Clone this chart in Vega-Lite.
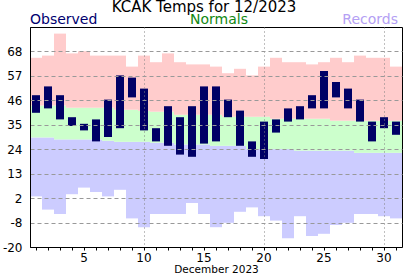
{
  "$schema": "https://vega.github.io/schema/vega-lite/v6.json",
  "width": 372,
  "height": 220,
  "autosize": "none",
  "padding": {"left": 30, "top": 27, "right": 10, "bottom": 29},
  "background": "white",
  "config": {"view": {"stroke": "black", "strokeWidth": 1}, "font": "DejaVu Sans"},
  "data": {"values": [
    {"day": 1, "obs_hi": 49, "obs_lo": 41, "norm_hi": 44.3, "norm_lo": 29.8, "rec_hi": 66, "rec_lo": 3},
    {"day": 2, "obs_hi": 53, "obs_lo": 43, "norm_hi": 44.3, "norm_lo": 29.8, "rec_hi": 67, "rec_lo": -3},
    {"day": 3, "obs_hi": 49, "obs_lo": 38, "norm_hi": 44.3, "norm_lo": 28.9, "rec_hi": 77, "rec_lo": -5},
    {"day": 4, "obs_hi": 39, "obs_lo": 35, "norm_hi": 43.3, "norm_lo": 28.9, "rec_hi": 68, "rec_lo": 4},
    {"day": 5, "obs_hi": 36, "obs_lo": 33, "norm_hi": 43.3, "norm_lo": 28.9, "rec_hi": 69, "rec_lo": 7},
    {"day": 6, "obs_hi": 38, "obs_lo": 28, "norm_hi": 43.3, "norm_lo": 28.9, "rec_hi": 67, "rec_lo": 5},
    {"day": 7, "obs_hi": 47, "obs_lo": 30, "norm_hi": 43.3, "norm_lo": 28.3, "rec_hi": 67, "rec_lo": 3},
    {"day": 8, "obs_hi": 58, "obs_lo": 34, "norm_hi": 42.4, "norm_lo": 27.8, "rec_hi": 67, "rec_lo": 6},
    {"day": 9, "obs_hi": 57, "obs_lo": 48, "norm_hi": 42.4, "norm_lo": 27.8, "rec_hi": 62, "rec_lo": -7},
    {"day": 10, "obs_hi": 52, "obs_lo": 33, "norm_hi": 41.9, "norm_lo": 27.8, "rec_hi": 67, "rec_lo": -11},
    {"day": 11, "obs_hi": 34, "obs_lo": 28, "norm_hi": 41.5, "norm_lo": 27.4, "rec_hi": 64, "rec_lo": -5},
    {"day": 12, "obs_hi": 44, "obs_lo": 26, "norm_hi": 41.5, "norm_lo": 27.4, "rec_hi": 68, "rec_lo": -5},
    {"day": 13, "obs_hi": 39, "obs_lo": 22, "norm_hi": 40.1, "norm_lo": 26.6, "rec_hi": 64, "rec_lo": -5},
    {"day": 14, "obs_hi": 44, "obs_lo": 21, "norm_hi": 40.1, "norm_lo": 26.6, "rec_hi": 63, "rec_lo": 0},
    {"day": 15, "obs_hi": 53, "obs_lo": 27, "norm_hi": 40.1, "norm_lo": 26.6, "rec_hi": 63, "rec_lo": -5},
    {"day": 16, "obs_hi": 53, "obs_lo": 28, "norm_hi": 40.1, "norm_lo": 26.0, "rec_hi": 62, "rec_lo": -11},
    {"day": 17, "obs_hi": 47, "obs_lo": 39, "norm_hi": 39.2, "norm_lo": 26.0, "rec_hi": 59, "rec_lo": -9},
    {"day": 18, "obs_hi": 42, "obs_lo": 26, "norm_hi": 39.2, "norm_lo": 26.0, "rec_hi": 61, "rec_lo": -4},
    {"day": 19, "obs_hi": 28, "obs_lo": 21, "norm_hi": 39.2, "norm_lo": 24.5, "rec_hi": 58, "rec_lo": -2},
    {"day": 20, "obs_hi": 37, "obs_lo": 20, "norm_hi": 39.2, "norm_lo": 24.5, "rec_hi": 62, "rec_lo": -6},
    {"day": 21, "obs_hi": 38, "obs_lo": 32, "norm_hi": 38.3, "norm_lo": 24.5, "rec_hi": 66, "rec_lo": -8},
    {"day": 22, "obs_hi": 43, "obs_lo": 37, "norm_hi": 38.3, "norm_lo": 24.5, "rec_hi": 64, "rec_lo": -16},
    {"day": 23, "obs_hi": 44, "obs_lo": 38, "norm_hi": 38.3, "norm_lo": 23.8, "rec_hi": 64, "rec_lo": -6},
    {"day": 24, "obs_hi": 49, "obs_lo": 43, "norm_hi": 38.3, "norm_lo": 23.8, "rec_hi": 63, "rec_lo": -15},
    {"day": 25, "obs_hi": 60, "obs_lo": 43, "norm_hi": 38.3, "norm_lo": 23.8, "rec_hi": 64, "rec_lo": -14},
    {"day": 26, "obs_hi": 55, "obs_lo": 48, "norm_hi": 37.4, "norm_lo": 23.8, "rec_hi": 66, "rec_lo": -10},
    {"day": 27, "obs_hi": 52, "obs_lo": 43, "norm_hi": 37.4, "norm_lo": 23.8, "rec_hi": 64, "rec_lo": -9},
    {"day": 28, "obs_hi": 47, "obs_lo": 37, "norm_hi": 37.4, "norm_lo": 22.8, "rec_hi": 67, "rec_lo": -5},
    {"day": 29, "obs_hi": 37, "obs_lo": 28, "norm_hi": 37.4, "norm_lo": 22.8, "rec_hi": 66, "rec_lo": -5},
    {"day": 30, "obs_hi": 39, "obs_lo": 34, "norm_hi": 37.4, "norm_lo": 22.8, "rec_hi": 66, "rec_lo": -6},
    {"day": 31, "obs_hi": 37, "obs_lo": 31, "norm_hi": 37.4, "norm_lo": 22.8, "rec_hi": 62, "rec_lo": -7}
  ]},
  "encoding": {
    "x": {
      "field": "day", "type": "ordinal",
      "scale": {"paddingInner": 0, "paddingOuter": 0},
      "axis": {
        "labelExpr": "datum.value % 5 == 0 ? datum.label : ''",
        "labelAngle": 0, "labelFontSize": 12, "labelColor": "black", "labelPadding": 2,
        "bandPosition": 0.5,
        "grid": true, "gridColor": "#808080", "gridDash": [1, 3], "gridWidth": 1,
        "gridOpacity": {"condition": {"test": "datum.value % 10 == 0", "value": 1}, "value": 0},
        "tickSize": 3, "tickColor": "black", "domainColor": "black",
        "title": "December 2023", "titleFontSize": 10.5, "titleFontWeight": "normal", "titleColor": "black", "titlePadding": 1,
        "zindex": 1
      }
    }
  },
  "layer": [
    {
      "mark": {"type": "bar", "color": "#ccccff"},
      "encoding": {
        "y": {
          "field": "rec_lo", "type": "quantitative", "title": null,
          "scale": {"domain": [-20, 80], "nice": false, "zero": false},
          "axis": {
            "values": [-20, -8.8889, 2.2222, 13.3333, 24.4444, 35.5556, 46.6667, 57.7778, 68.8889],
            "tickCount": 20,
            "labelExpr": "datum.value < 0 ? ceil(datum.value) : floor(datum.value)",
            "labelOverlap": false, "labelFlush": false,
            "grid": true, "gridColor": "#999999", "gridDash": [4, 3], "gridWidth": 1,
            "ticks": false, "labelPadding": 8, "labelFontSize": 12, "labelColor": "black",
            "domainColor": "black", "title": null, "zindex": 1
          }
        },
        "y2": {"field": "norm_lo"}
      }
    },
    {
      "mark": {"type": "bar", "color": "#ccffcc"},
      "encoding": {
        "y": {"field": "norm_lo", "type": "quantitative", "title": null},
        "y2": {"field": "norm_hi"}
      }
    },
    {
      "mark": {"type": "bar", "color": "#ffcccc"},
      "encoding": {
        "y": {"field": "norm_hi", "type": "quantitative", "title": null},
        "y2": {"field": "rec_hi"}
      }
    },
    {
      "mark": {"type": "bar", "color": "#000066", "width": 8},
      "encoding": {
        "y": {"field": "obs_lo", "type": "quantitative", "title": null},
        "y2": {"field": "obs_hi"}
      }
    },
    {
      "data": {"values": [{"label": "KCAK Temps for 12/2023"}]},
      "mark": {"type": "text", "align": "center", "baseline": "alphabetic", "fontSize": 15, "color": "black", "dx": -12, "dy": -15},
      "encoding": {
        "text": {"field": "label"},
        "x": {"datum": 16, "type": "ordinal"},
        "y": {"datum": 80, "type": "quantitative"}
      }
    },
    {
      "data": {"values": [{"label": "Observed"}]},
      "mark": {"type": "text", "align": "left", "baseline": "alphabetic", "fontSize": 14, "color": "#000070", "dx": -6, "dy": -3},
      "encoding": {
        "text": {"field": "label"},
        "x": {"datum": 1, "type": "ordinal"},
        "y": {"datum": 80, "type": "quantitative"}
      }
    },
    {
      "data": {"values": [{"label": "Normals"}]},
      "mark": {"type": "text", "align": "center", "baseline": "alphabetic", "fontSize": 14, "color": "#118811", "dx": 3, "dy": -3},
      "encoding": {
        "text": {"field": "label"},
        "x": {"datum": 16, "type": "ordinal"},
        "y": {"datum": 80, "type": "quantitative"}
      }
    },
    {
      "data": {"values": [{"label": "Records"}]},
      "mark": {"type": "text", "align": "right", "baseline": "alphabetic", "fontSize": 14, "color": "#b4a0f4", "dx": 2, "dy": -3},
      "encoding": {
        "text": {"field": "label"},
        "x": {"datum": 31, "type": "ordinal"},
        "y": {"datum": 80, "type": "quantitative"}
      }
    }
  ]
}
